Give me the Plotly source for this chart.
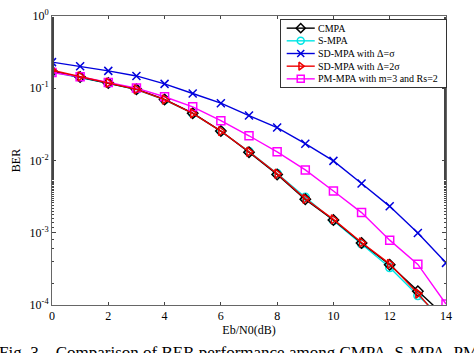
import plotly.graph_objects as go

ebn0 = list(range(0, 15))
cmpa = [0.172, 0.143, 0.118, 0.097, 0.070, 0.0452, 0.0256, 0.0130, 0.0064, 0.0029,
        0.00150, 0.00072, 0.00036, 0.000155, 0.000068]
smpa = [0.168, 0.141, 0.117, 0.096, 0.069, 0.0448, 0.0254, 0.0133, 0.0066, 0.0031,
        0.00148, 0.00070, 0.00033, 0.000135, 0.00006]
sd_sigma = [0.230, 0.201, 0.174, 0.148, 0.115, 0.0846, 0.0621, 0.0419, 0.0286, 0.0171,
            0.00988, 0.0048, 0.00232, 0.00099, 0.000383]
sd_2sigma = [0.178, 0.146, 0.119, 0.0965, 0.0698, 0.045, 0.0255, 0.0132, 0.00654, 0.00295,
             0.00153, 0.000734, 0.000371, 0.000144, 0.000052]
pm_mpa = [0.165, 0.1445, 0.120, 0.1006, 0.0762, 0.0554, 0.0356, 0.0220, 0.0132, 0.00741,
          0.00378, 0.0019, 0.00079, 0.000365, 0.000103]

y_tickvals = [1e-4, 1e-3, 1e-2, 1e-1, 1]
y_ticktext = ["10<sup>-4</sup>", "10<sup>-3</sup>", "10<sup>-2</sup>", "10<sup>-1</sup>", "10<sup>0</sup>"]

names = ["CMPA", "S-MPA", "SD-MPA with \u0394=\u03c3", "SD-MPA with \u0394=2\u03c3",
         "PM-MPA with m=3 and Rs=2"]
colors = ["#000000", "#00e5e5", "#0000dd", "#ee0000", "#ff00ff"]
symbols = ["diamond-open", "circle-open", "x-thin", "triangle-right-open", "square-open"]
series = [cmpa, smpa, sd_sigma, sd_2sigma, pm_mpa]
order = [1, 0, 2, 4, 3]  # drawing order

font = "Liberation Serif, Times New Roman, serif"
fig = go.Figure()
for i in order:
    fig.add_trace(go.Scatter(
        x=ebn0, y=series[i], name=names[i], mode="lines+markers",
        line=dict(color=colors[i], width=1.4),
        marker=dict(symbol=symbols[i], size=8, color=colors[i],
                    line=dict(color=colors[i], width=1.5)),
        showlegend=False,
    ))

# compact legend drawn in a small overlay subplot (legend-box units)
for i in range(len(names)):
    row = i + 0.5
    fig.add_trace(go.Scatter(
        x=[0.035, 0.205], y=[row, row], mode="lines",
        line=dict(color=colors[i], width=1.4),
        xaxis="x2", yaxis="y2", showlegend=False, hoverinfo="skip"))
    fig.add_trace(go.Scatter(
        x=[0.12], y=[row], mode="markers",
        marker=dict(symbol=symbols[i], size=7, color=colors[i],
                    line=dict(color=colors[i], width=1.5)),
        xaxis="x2", yaxis="y2", showlegend=False, hoverinfo="skip"))
    fig.add_annotation(
        text=names[i], x=0.215, y=row, xref="x2", yref="y2",
        xanchor="left", yanchor="middle", showarrow=False,
        font=dict(family=font, size=10, color="black"))

fig.update_layout(
    width=474, height=353,
    margin=dict(l=52, r=28, t=8, b=48),
    paper_bgcolor="white", plot_bgcolor="white",
    font=dict(family=font, size=12, color="black"),
    showlegend=False,
    xaxis=dict(
        range=[0, 14], dtick=2, tick0=0, ticks="inside", ticklen=3,
        showline=True, linecolor="#666666", linewidth=1, mirror="ticks",
        showgrid=False, zeroline=False,
        title=dict(text="Eb/N0(dB)", font=dict(family=font, size=12), standoff=0),
        tickfont=dict(family=font, size=12),
    ),
    yaxis=dict(
        type="log", range=[-4, 0], tickvals=y_tickvals, ticktext=y_ticktext,
        ticks="inside", ticklen=4,
        minor=dict(ticks="inside", ticklen=2, showgrid=False),
        showline=True, linecolor="#666666", linewidth=1, mirror="ticks",
        showgrid=False, zeroline=False,
        title=dict(text="BER", font=dict(family=font, size=12), standoff=6),
        tickfont=dict(family=font, size=12),
    ),
    xaxis2=dict(domain=[0.581, 1.0], range=[0, 1], anchor="y2",
                showticklabels=False, ticks="", showgrid=False, zeroline=False,
                showline=True, mirror=True, linecolor="#333333", linewidth=1),
    yaxis2=dict(domain=[0.754, 0.9865], range=[5.15, -0.15], anchor="x2",
                showticklabels=False, ticks="", showgrid=False, zeroline=False,
                showline=True, mirror=True, linecolor="#333333", linewidth=1),
)
fig.add_annotation(
    text="Fig. 3.   Comparison of BER performance among CMPA, S-MPA, PM-MPA",
    xref="paper", yref="paper", x=-0.14, y=-0.125, xanchor="left", yanchor="top",
    showarrow=False, font=dict(family=font, size=17, color="black"),
)
fig.write_html("out.html")
